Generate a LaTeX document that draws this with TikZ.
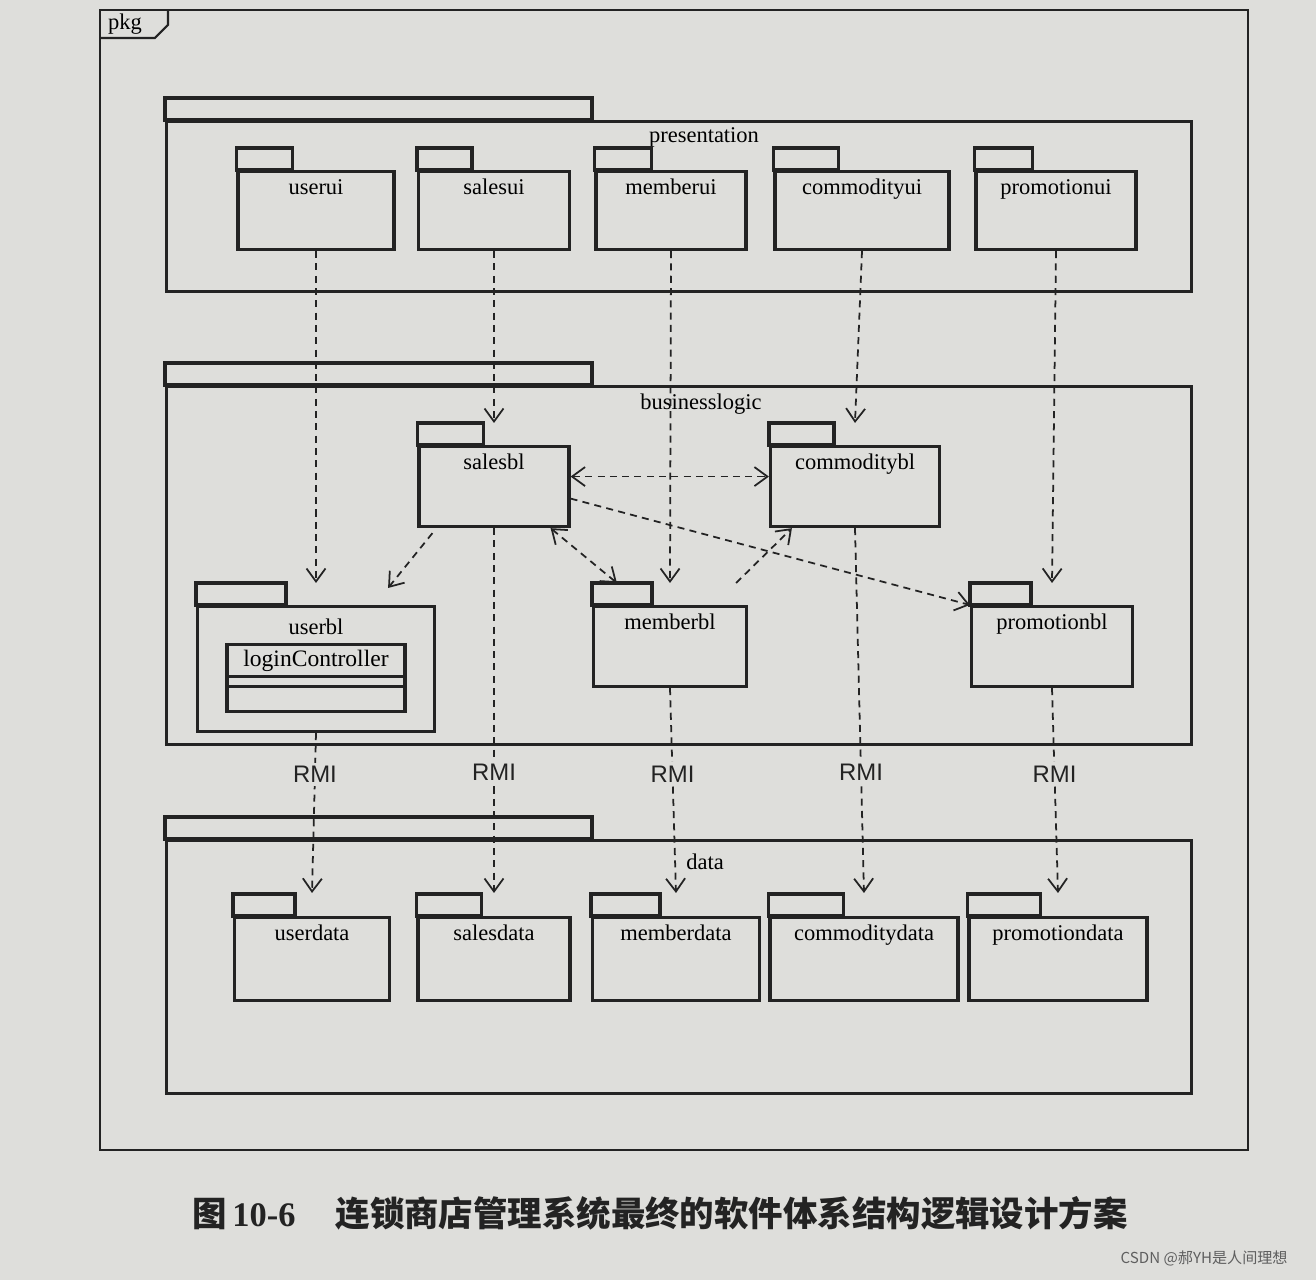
\documentclass[tikz,border=0pt]{standalone}
\usepackage{fontspec}
\setmainfont{Liberation Serif}
\newfontfamily\rmisans{Liberation Sans}
\newfontfamily\cjk{Noto Sans CJK SC}
\usetikzlibrary{positioning,arrows.meta,shapes.multipart}
\definecolor{paper}{RGB}{222,222,219}
\definecolor{ink}{RGB}{35,35,35}
\definecolor{wmgray}{RGB}{95,95,95}

\begin{document}
\begin{tikzpicture}[
  >={Straight Barb[length=1.3mm,width=1.9mm]},
  layer/.style={
    draw=ink,
    line width=0.9pt,
    anchor=north west,
    inner sep=0pt
  },
  pkg/.style={
    draw=ink,
    line width=0.9pt,
    anchor=north,
    inner sep=0pt,
    minimum width=#1,
    text height=0.23cm,
    font=\fontsize{6.4}{7.6}\selectfont
  },
  uipkg/.style={pkg=#1, text depth=0.55cm},
  blpkg/.style={pkg=#1, text depth=0.57cm},
  datapkg/.style={pkg=#1, text depth=0.60cm},
  classbox/.style={
    draw=ink,
    line width=0.9pt,
    anchor=north,
    rectangle split,
    rectangle split parts=3,
    rectangle split empty part height=1pt,
    text width=1.64cm,
    align=center,
    inner xsep=2pt,
    inner ysep=1pt,
    font=\fontsize{6.7}{8}\selectfont
  },
  tab/.style={draw=ink, line width=0.9pt},
  title/.style={font=\fontsize{6.4}{7.6}\selectfont, inner sep=1pt},
  dep/.style={->, draw=ink, line width=0.5pt, dash pattern=on 2pt off 1.5pt},
  rmi/.style={font=\rmisans\fontsize{6.8}{8}\selectfont, fill=paper, inner sep=1pt, text=ink}
]
\fill[paper] (0,0) rectangle (13.16,-12.80);
\useasboundingbox (0,0) rectangle (13.16,-12.80);

% outer frame
\draw[ink, line width=0.6pt] (1.00,-0.10) rectangle (12.48,-11.50);
\draw[ink, line width=0.6pt] (1.00,-0.38) -- (1.55,-0.38) -- (1.68,-0.25) -- (1.68,-0.10);
\node[title, anchor=west] (pkgname) at (1.04,-0.24) {pkg};

% layers
\node[layer, minimum width=10.25cm, minimum height=1.70cm] (presentation) at (1.65,-1.20) {};
\node[layer, minimum width=10.25cm, minimum height=3.58cm] (businesslogic) at (1.65,-3.85) {};
\node[layer, minimum width=10.25cm, minimum height=2.53cm] (data) at (1.65,-8.39) {};
\foreach \n in {presentation, businesslogic, data}
  \draw[tab] (\n.north west) rectangle ++(4.27,0.22);
\node[title] (presentationname) at (7.04,-1.37) {presentation};
\node[title] (businesslogicname) at (7.01,-4.04) {businesslogic};
\node[title] (dataname) at (7.05,-8.62) {data};

% Sub-packages inside presentation
\node[uipkg=1.56cm] (userui) at (3.16,-1.70) {userui};
\node[uipkg=1.51cm] (salesui) at (4.94,-1.70) {salesui};
\node[uipkg=1.50cm] (memberui) at (6.71,-1.70) {memberui};
\node[uipkg=1.74cm] (commodityui) at (8.62,-1.70) {commodityui};
\node[uipkg=1.60cm] (promotionui) at (10.56,-1.70) {promotionui};

% Sub-packages inside businesslogic
\node[blpkg=1.50cm] (salesbl) at (4.94,-4.45) {salesbl};
\node[blpkg=1.69cm] (commoditybl) at (8.55,-4.45) {commoditybl};
\node[pkg=2.37cm, text height=0.28cm, text depth=0.97cm] (userbl) at (3.16,-6.05) {userbl};
\node[blpkg=1.53cm] (memberbl) at (6.70,-6.05) {memberbl};
\node[blpkg=1.61cm] (promotionbl) at (10.52,-6.05) {promotionbl};
\node[classbox] (logincontroller) at (3.16,-6.43)
  {loginController \nodepart{second} \nodepart{third}\rule{0pt}{4.2pt}};

% Sub-packages inside data
\node[datapkg=1.55cm] (userdata) at (3.12,-9.16) {userdata};
\node[datapkg=1.52cm] (salesdata) at (4.94,-9.16) {salesdata};
\node[datapkg=1.67cm] (memberdata) at (6.76,-9.16) {memberdata};
\node[datapkg=1.88cm] (commoditydata) at (8.64,-9.16) {commoditydata};
\node[datapkg=1.78cm] (promotiondata) at (10.58,-9.16) {promotiondata};

% tabs
\foreach \n/\w in {userui/0.56, salesui/0.55, memberui/0.57, commodityui/0.65, promotionui/0.58,
    salesbl/0.66, commoditybl/0.65, userbl/0.90, memberbl/0.60, promotionbl/0.61,
    userdata/0.62, salesdata/0.65, memberdata/0.69, commoditydata/0.75, promotiondata/0.73}
  \draw[tab] (\n.north west) rectangle ++(\w,0.22);

% Arrows presentation -> businesslogic
\draw[dep] (userui.south) -- ([yshift=2.2mm]userbl.north);
\draw[dep] (salesui.south) -- ([yshift=2.2mm]salesbl.north);
\draw[dep] (memberui.south) -- ([yshift=2.2mm]memberbl.north);
\draw[dep] (commodityui.south) -- ([yshift=2.2mm]commoditybl.north);
\draw[dep] (promotionui.south) -- ([yshift=2.2mm]promotionbl.north);

% Arrows inside businesslogic
\draw[dep, <->] ([yshift=1mm]salesbl.east) -- ([yshift=1mm]commoditybl.west);
\draw[dep] ([xshift=1.5mm,yshift=-0.5mm]salesbl.south west) -- ([xshift=-4.8mm,yshift=1.7mm]userbl.north east);
\draw[dep, <->] ([xshift=-2mm]salesbl.south east) -- ([xshift=2.5mm,yshift=2.2mm]memberbl.north west);
\draw[dep] ([yshift=-1.2mm]salesbl.east) -- (promotionbl.north west);
\draw[dep] ([xshift=-1.2mm,yshift=2.2mm]memberbl.north east) -- ([xshift=2.3mm]commoditybl.south west);

% Arrows businesslogic -> data
\draw[dep] (userbl.south) -- node[rmi, pos=0.26] (rmiuser) {RMI} ([yshift=2.3mm]userdata.north);
\draw[dep] (salesbl.south) -- node[rmi, pos=0.67] (rmisales) {RMI} ([yshift=2.3mm]salesdata.north);
\draw[dep] (memberbl.south) -- node[rmi, pos=0.42] (rmimember) {RMI} ([yshift=2.3mm]memberdata.north);
\draw[dep] (commoditybl.south) -- node[rmi, pos=0.67] (rmicommodity) {RMI} ([yshift=2.3mm]commoditydata.north);
\draw[dep] (promotionbl.south) -- node[rmi, pos=0.42] (rmipromotion) {RMI} ([yshift=2.3mm]promotiondata.north);

% caption
\node[font=\bfseries\fontsize{9.8}{12}\selectfont, text=ink] (caption) at (6.60,-12.13)
  {{\cjk 图}\,10-6\hspace{0.4cm}{\cjk 连锁商店管理系统最终的软件体系结构逻辑设计方案}};
\node[font=\cjk\fontsize{4.3}{5}\selectfont, text=wmgray, anchor=east] (watermark) at (13.00,-12.58)
  {CSDN @郝YH是人间理想};

\end{tikzpicture}
\end{document}
